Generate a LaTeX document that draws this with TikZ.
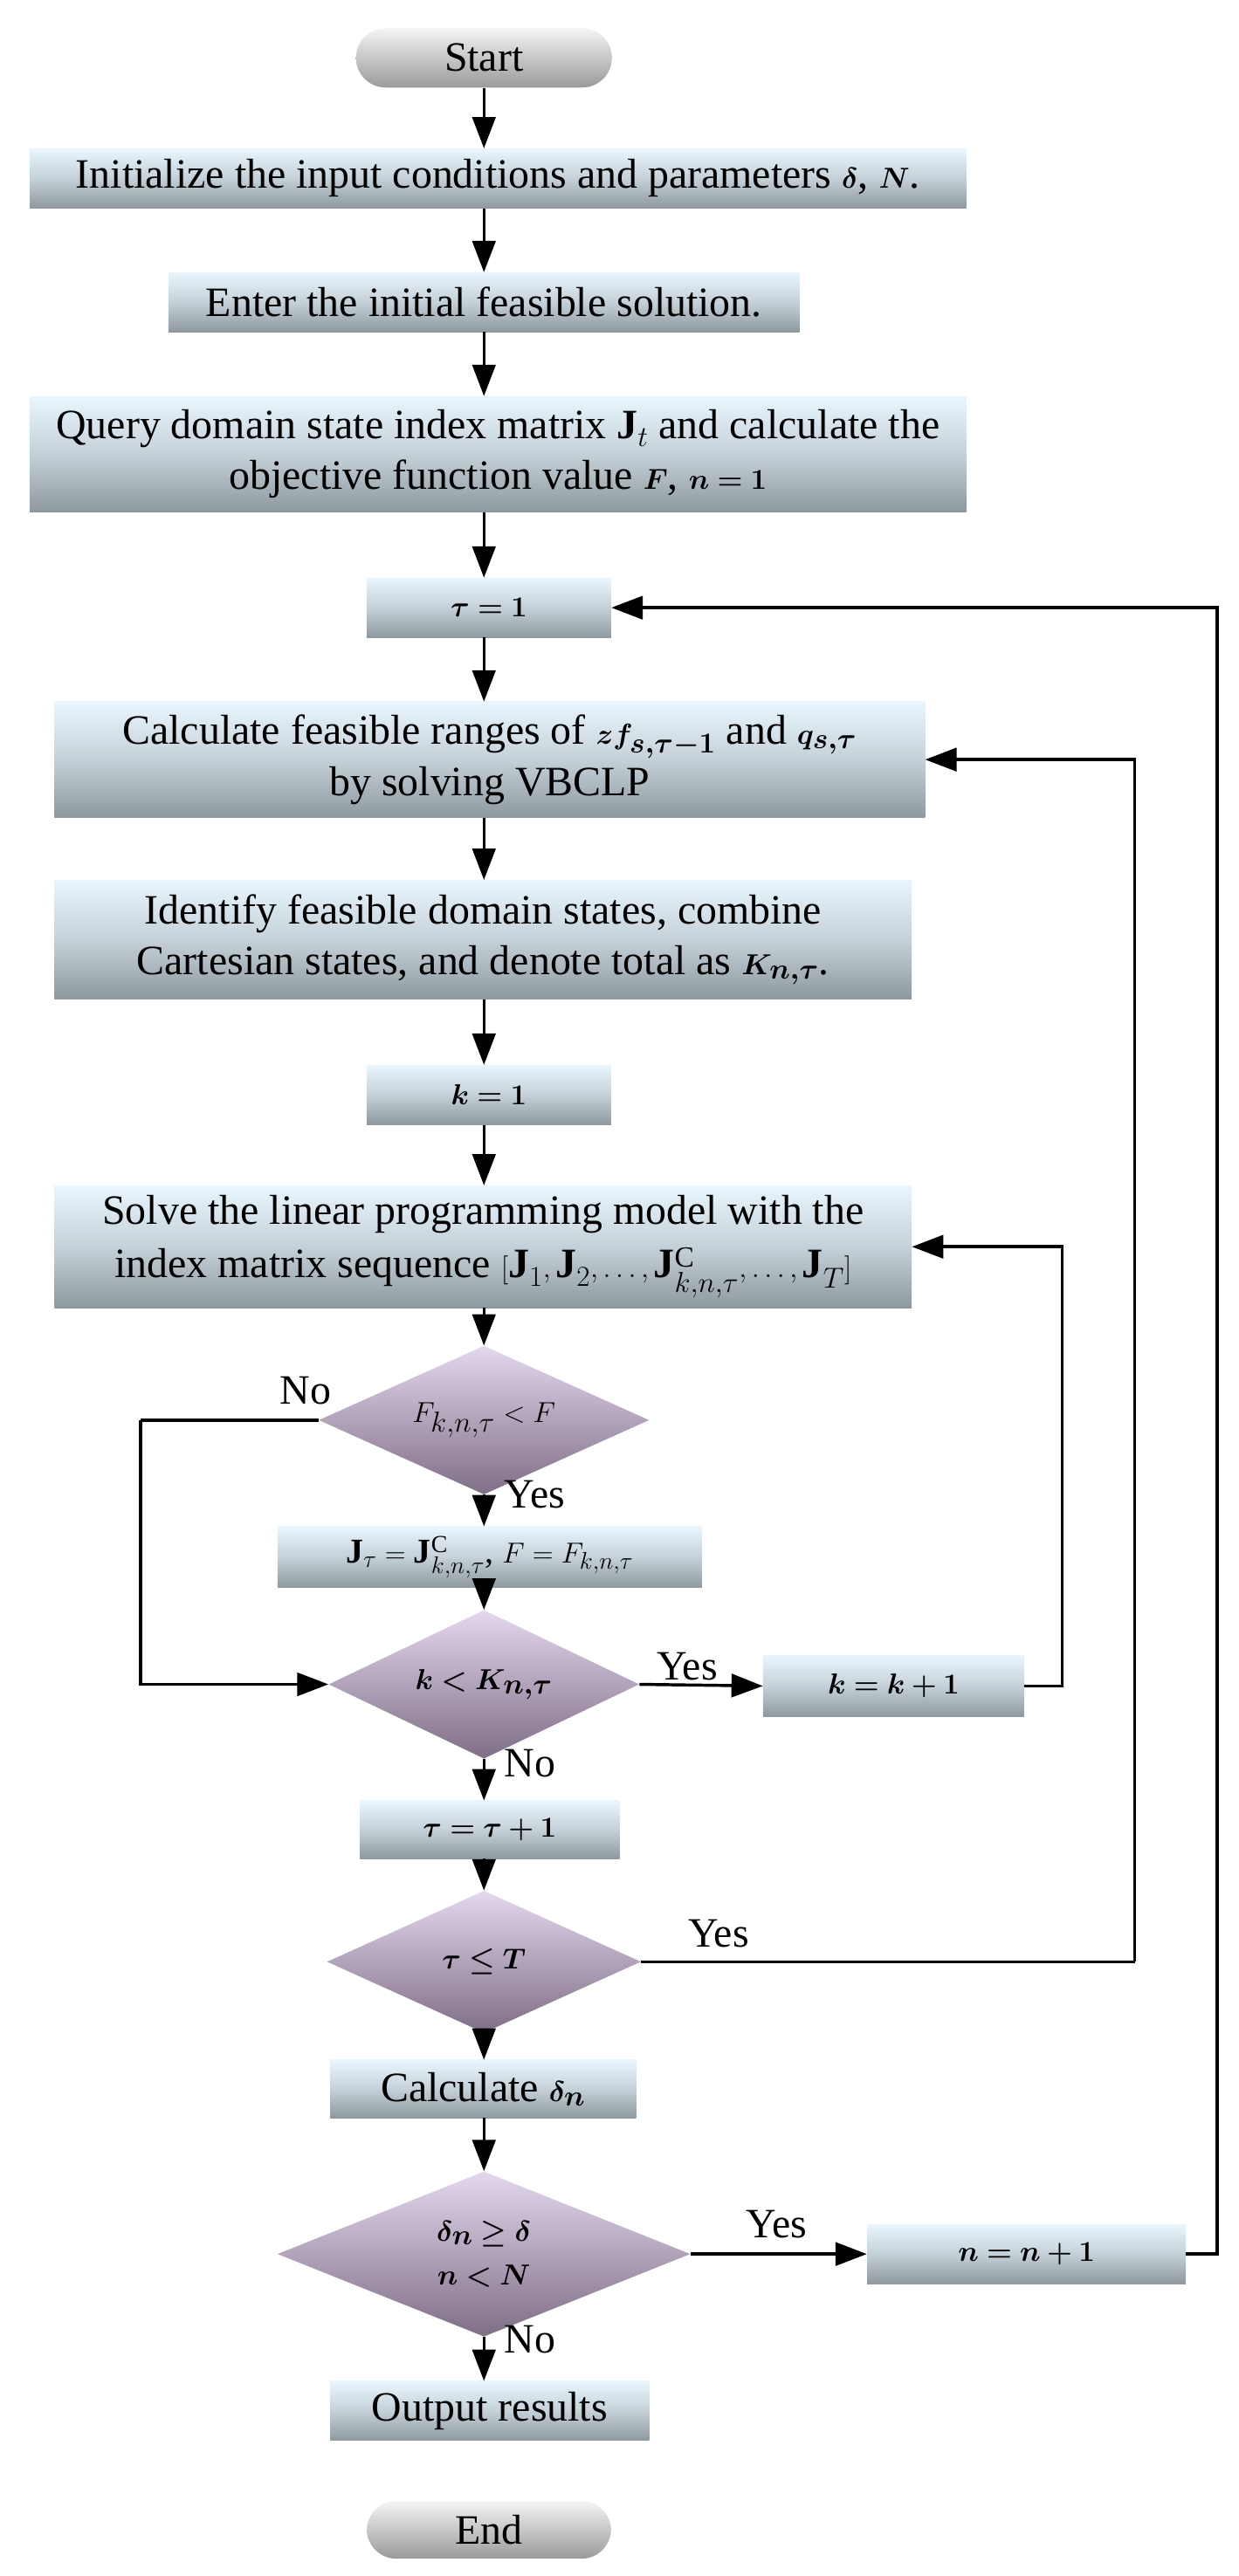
\documentclass[tikz,border=0pt]{standalone}
\usepackage{fontspec}
\usepackage{amsmath,bm}
\setmainfont{Liberation Serif}
\usetikzlibrary{arrows.meta,shapes.geometric}
\definecolor{btop}{HTML}{EAF6FD}
\definecolor{bbot}{HTML}{8D989F}
\definecolor{dtop}{HTML}{E4D8EE}
\definecolor{dbot}{HTML}{7E6E86}
\definecolor{ttop}{HTML}{F4F4F4}
\definecolor{tbot}{HTML}{9A9A9A}
\begin{document}
\begin{tikzpicture}[x=0.05cm,y=-0.05cm,
  every node/.style={font=\fontsize{36}{44}\selectfont},
  box/.style={rectangle,top color=btop,bottom color=bbot,middle color=btop!60!bbot,inner sep=0pt,align=center},
  dia/.style={diamond,top color=dtop,bottom color=dbot,inner sep=0pt,aspect=2},
  term/.style={rectangle,rounded corners=0.9cm,top color=ttop,bottom color=tbot,inner sep=0pt},
  arr/.style={line width=2.6pt,-{Triangle[length=0.95cm,width=0.7cm]}},
  ln/.style={line width=2.6pt},
  lab/.style={font=\fontsize{36}{40}\selectfont}]
\useasboundingbox (0,0) rectangle (750,1560);
\node[term,minimum width=7.75cm,minimum height=1.8cm] (start) at (293,35) {Start};
\node[box,minimum width=28.35cm,minimum height=1.8cm] (init) at (301.5,108) {Initialize the input conditions and parameters $\bm{\delta}$, $\bm{N}$.};
\node[box,minimum width=19.1cm,minimum height=1.8cm] (enter) at (293,183) {Enter the initial feasible solution.};
\node[box,minimum width=28.35cm,minimum height=3.5cm] (query) at (301.5,275) {Query domain state index matrix $\mathbf{J}_t$ and calculate the\\objective function value $\bm{F}$, $\bm{n=1}$};
\node[box,minimum width=7.4cm,minimum height=1.8cm] (tau1) at (296,368) {$\bm{\tau=1}$};
\node[box,minimum width=26.35cm,minimum height=3.5cm] (calc) at (296.5,460) {Calculate feasible ranges of $\bm{zf_{s,\tau-1}}$ and $\bm{q_{s,\tau}}$\\by solving VBCLP};
\node[box,minimum width=25.95cm,minimum height=3.6cm] (ident) at (292.5,569) {Identify feasible domain states, combine\\Cartesian states, and denote total as $\bm{K_{n,\tau}}$.};
\node[box,minimum width=7.4cm,minimum height=1.8cm] (k1) at (296,663) {$\bm{k=1}$};
\node[box,minimum width=25.95cm,minimum height=3.7cm] (solve) at (292.5,755) {Solve the linear programming model with the\\[2pt]index matrix sequence $[\mathbf{J}_1,\mathbf{J}_2,\ldots,\mathbf{J}^{\mathrm{C}}_{k,n,\tau},\ldots,\mathbf{J}_T]$};
\node[dia,minimum width=10cm,minimum height=4.5cm] (dF) at (293,860) {$F_{k,n,\tau}<F$};
\node[box,minimum width=12.85cm,minimum height=1.85cm,font=\fontsize{30}{34}\selectfont] (J) at (296.5,943) {$\mathbf{J}_\tau=\mathbf{J}^{\mathrm{C}}_{k,n,\tau}$, $F=F_{k,n,\tau}$};
\node[dia,minimum width=9.4cm,minimum height=4.5cm] (dk) at (293,1020) {$\bm{k<K_{n,\tau}}$};
\node[box,minimum width=7.9cm,minimum height=1.85cm] (kk) at (541,1021) {$\bm{k=k+1}$};
\node[box,minimum width=7.85cm,minimum height=1.75cm] (tt) at (296.5,1108) {$\bm{\tau=\tau+1}$};
\node[dia,minimum width=9.5cm,minimum height=4.3cm] (dT) at (293,1188) {$\bm{\tau\le T}$};
\node[box,minimum width=9.25cm,minimum height=1.75cm] (cd) at (292.5,1265) {Calculate $\bm{\delta_n}$};
\node[dia,minimum width=12.5cm,minimum height=5cm,align=center] (dd) at (293,1365) {$\bm{\delta_n\ge\delta}$\\[-6pt]$\bm{n<N}$};
\node[box,minimum width=9.65cm,minimum height=1.8cm] (nn) at (621.5,1365) {$\bm{n=n+1}$};
\node[box,minimum width=9.65cm,minimum height=1.8cm] (out) at (296.5,1460) {Output results};
\node[term,minimum width=7.4cm,minimum height=1.75cm] (end) at (296,1532) {End};

\draw[arr] (start) -- (start|-init.north);
\draw[arr] (init.south-|start) -- (start|-enter.north);
\draw[arr] (enter.south-|start) -- (start|-query.north);
\draw[arr] (query.south-|start) -- (start|-tau1.north);
\draw[arr] (tau1.south-|start) -- (start|-calc.north);
\draw[arr] (calc.south-|start) -- (start|-ident.north);
\draw[arr] (ident.south-|start) -- (start|-k1.north);
\draw[arr] (k1.south-|start) -- (start|-solve.north);
\draw[arr] (solve.south-|start) -- (dF.north);
\draw[arr] (dF.south) -- (start|-J.north);
\node[lab,anchor=west] (ly1) at (303,905) {Yes};
\draw[arr] (J.south-|start) -- (dk.north);
\draw[arr] (dk.south) -- (start|-tt.north);
\node[lab,anchor=west] (ln1) at (303,1068) {No};
\draw[arr] (tt.south-|start) -- (dT.north);
\draw[arr] (dT.south) -- (start|-cd.north);
\draw[arr] (cd.south-|start) -- (dd.north);
\draw[arr] (dd.south) -- (start|-out.north);
\node[lab,anchor=west] (ln2) at (303,1417) {No};

\coordinate (c1) at (85,860);
\coordinate (c2) at (85,1020);
\draw[ln] (dF.west) -- (c1);
\node[lab] (ln0) at (185,842) {No};
\draw[arr] (c1) -- (c2) -- (dk.west);
\draw[arr] (dk.east) -- (kk.west);
\node[lab] (ly2) at (416,1009) {Yes};
\coordinate (c3) at (643,1021);
\coordinate (c4) at (643,755);
\draw[arr] (kk.east) -- (c3) -- (c4) -- (solve.east);
\coordinate (c5) at (687,1188);
\coordinate (c6) at (687,460);
\draw[ln] (dT.east) -- (c5);
\node[lab] (ly3) at (435,1171) {Yes};
\draw[arr] (c5) -- (c6) -- (calc.east);
\draw[arr] (dd.east) -- (nn.west);
\node[lab] (ly4) at (470,1347) {Yes};
\coordinate (c7) at (737,1365);
\coordinate (c8) at (737,368);
\draw[arr] (nn.east) -- (c7) -- (c8) -- (tau1.east);
\end{tikzpicture}
\end{document}
